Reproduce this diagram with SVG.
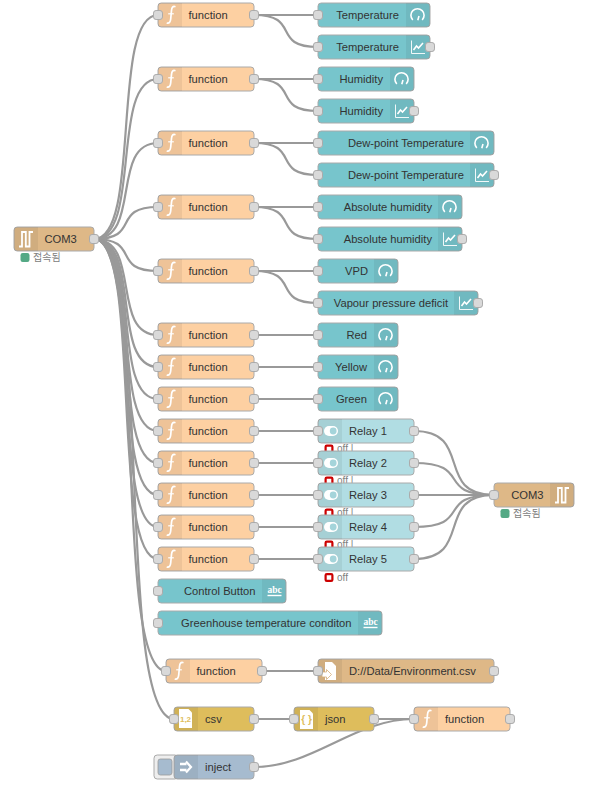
<svg xmlns="http://www.w3.org/2000/svg" xmlns:xlink="http://www.w3.org/1999/xlink" width="590" height="787" viewBox="0 0 590 787">
<style>
text{font-family:"Liberation Sans",Arial,"Noto Sans CJK KR",sans-serif;font-size:11.2px;fill:#333}
.e{text-anchor:end}
.n{stroke:#aaa;stroke-width:1}
.fn{fill:#fdd0a2}.db{fill:#77c5cc}.rl{fill:#b1dde3}.se{fill:#deb887}.pa{fill:#debd5c}.in{fill:#a6bbcf}
.sh{fill:#000;fill-opacity:.06}
.p{fill:#d9d9d9;stroke:#aaa;stroke-width:1}
.w{fill:none;stroke:#999;stroke-width:2.2}
.ic{fill:none;stroke:#fff;stroke-width:1.6}
.st{font-size:10px;fill:#808080}
</style>
<defs>
<rect id="pt" class="p" x="-4.500" y="-4.500" width="9" height="9" rx="2.600"/>
<g id="f"><path d="M5.500-8.300C2.800-9.300 1.800-7.600 1.500-4.500L.7 4C.4 7-.8 8.800-3.300 8" fill="none" stroke="#fff" stroke-width="1.700"/><path d="M-1.800-1.200H3.800" stroke="#fff" stroke-width="1.200"/></g>
<g id="gauge"><path class="ic" d="M-5.200 5A6.600 6.600 0 1 1 4.200 5"/><path class="ic" d="M-.2 5.200L1 1"/></g>
<g id="chart"><path d="M-6.500-6.500V6.500H7" fill="none" stroke="#fff" stroke-width="1" opacity=".9"/><path d="M-4.500 3L-1.500-1 .5 1 5-4" fill="none" stroke="#fff" stroke-width="1.600"/></g>
<g id="abc"><text x="0" y="1.500" text-anchor="middle" style="font-size:9.500px;fill:#fff;font-weight:bold;font-family:'Liberation Serif',serif">abc</text><path d="M-7 4.500H7" stroke="#fff" stroke-width="1.400"/></g>
<g id="ser"><path d="M-7 7.500H-4V-7H-.2V7.500H3.500V-7H7" fill="none" stroke="#fff" stroke-width="1.800"/></g>
<g id="sw"><rect x="-7" y="-5" width="14" height="10" rx="5" fill="#fff"/><circle cx="2.200" cy="0" r="3.400" fill="#a4d4da"/></g>
<g id="off"><rect x="-3.400" y="-3.400" width="6.800" height="6.800" rx="1.200" fill="#fff" stroke="#c00" stroke-width="2.200"/></g>
<path id="doc" d="M-6.500-9.500H3L6.500-6V9.500H-6.500Z" fill="#fff"/>
</defs>

<g id="connectors" class="wires">
<path class="w" d="M94 239C142 239 110 15 158 15"/>
<path class="w" d="M94 239C142 239 110 79 158 79"/>
<path class="w" d="M94 239C142 239 110 143 158 143"/>
<path class="w" d="M94 239C142 239 110 207 158 207"/>
<path class="w" d="M94 239C142 239 110 271 158 271"/>
<path class="w" d="M94 239C142 239 110 335 158 335"/>
<path class="w" d="M94 239C142 239 110 367 158 367"/>
<path class="w" d="M94 239C142 239 110 399 158 399"/>
<path class="w" d="M94 239C142 239 110 431 158 431"/>
<path class="w" d="M94 239C142 239 110 463 158 463"/>
<path class="w" d="M94 239C142 239 110 495 158 495"/>
<path class="w" d="M94 239C142 239 110 527 158 527"/>
<path class="w" d="M94 239C142 239 110 559 158 559"/>
<path class="w" d="M94 239C148 239 112 671 166 671"/>
<path class="w" d="M94 239C154 239 114 719 174 719"/>
<path class="w" d="M254 15H318"/><path class="w" d="M254 15C302 15 270 47 318 47"/>
<path class="w" d="M254 79H318"/><path class="w" d="M254 79C302 79 270 111 318 111"/>
<path class="w" d="M254 143H318"/><path class="w" d="M254 143C302 143 270 175 318 175"/>
<path class="w" d="M254 207H318"/><path class="w" d="M254 207C302 207 270 239 318 239"/>
<path class="w" d="M254 271H318"/><path class="w" d="M254 271C302 271 270 303 318 303"/>
<path class="w" d="M254 335H318"/><path class="w" d="M254 367H318"/><path class="w" d="M254 399H318"/>
<path class="w" d="M254 431H318"/><path class="w" d="M254 463H318"/><path class="w" d="M254 495H318"/><path class="w" d="M254 527H318"/><path class="w" d="M254 559H318"/>
<path class="w" d="M414 431C474 431 434 495 494 495"/>
<path class="w" d="M414 463C474 463 434 495 494 495"/>
<path class="w" d="M414 495H494"/>
<path class="w" d="M414 527C474 527 434 495 494 495"/>
<path class="w" d="M414 559C474 559 434 495 494 495"/>
<path class="w" d="M262 671H318"/>
<path class="w" d="M254 719H294"/>
<path class="w" d="M374 719H414"/>
<path class="w" d="M254 767C314 767 354 719 414 719"/>
</g>

<g id="com3-in"><rect class="n se" x="14" y="227" width="80" height="24" rx="3.200"/><path class="sh" d="M17 227H38V251H17A3 3 0 0 1 14 248V230A3 3 0 0 1 17 227Z"/><use href="#ser" x="26" y="239"/><text x="44.500" y="243">COM3</text><use href="#pt" x="94" y="239"/><rect x="20.500" y="253" width="9" height="9" rx="2.200" fill="#54a985"/><text class="st" x="33" y="261">접속됨</text></g>

<g id="fn1"><rect class="n fn" x="158" y="3" width="96" height="24" rx="3.200"/><path class="sh" d="M161 3H182V27H161A3 3 0 0 1 158 24V6A3 3 0 0 1 161 3Z"/><use href="#f" x="170" y="15"/><text x="188.500" y="19">function</text><use href="#pt" x="158" y="15"/><use href="#pt" x="254" y="15"/></g>
<g id="fn2"><rect class="n fn" x="158" y="67" width="96" height="24" rx="3.200"/><path class="sh" d="M161 67H182V91H161A3 3 0 0 1 158 88V70A3 3 0 0 1 161 67Z"/><use href="#f" x="170" y="79"/><text x="188.500" y="83">function</text><use href="#pt" x="158" y="79"/><use href="#pt" x="254" y="79"/></g>
<g id="fn3"><rect class="n fn" x="158" y="131" width="96" height="24" rx="3.200"/><path class="sh" d="M161 131H182V155H161A3 3 0 0 1 158 152V134A3 3 0 0 1 161 131Z"/><use href="#f" x="170" y="143"/><text x="188.500" y="147">function</text><use href="#pt" x="158" y="143"/><use href="#pt" x="254" y="143"/></g>
<g id="fn4"><rect class="n fn" x="158" y="195" width="96" height="24" rx="3.200"/><path class="sh" d="M161 195H182V219H161A3 3 0 0 1 158 216V198A3 3 0 0 1 161 195Z"/><use href="#f" x="170" y="207"/><text x="188.500" y="211">function</text><use href="#pt" x="158" y="207"/><use href="#pt" x="254" y="207"/></g>
<g id="fn5"><rect class="n fn" x="158" y="259" width="96" height="24" rx="3.200"/><path class="sh" d="M161 259H182V283H161A3 3 0 0 1 158 280V262A3 3 0 0 1 161 259Z"/><use href="#f" x="170" y="271"/><text x="188.500" y="275">function</text><use href="#pt" x="158" y="271"/><use href="#pt" x="254" y="271"/></g>
<g id="fn6"><rect class="n fn" x="158" y="323" width="96" height="24" rx="3.200"/><path class="sh" d="M161 323H182V347H161A3 3 0 0 1 158 344V326A3 3 0 0 1 161 323Z"/><use href="#f" x="170" y="335"/><text x="188.500" y="339">function</text><use href="#pt" x="158" y="335"/><use href="#pt" x="254" y="335"/></g>
<g id="fn7"><rect class="n fn" x="158" y="355" width="96" height="24" rx="3.200"/><path class="sh" d="M161 355H182V379H161A3 3 0 0 1 158 376V358A3 3 0 0 1 161 355Z"/><use href="#f" x="170" y="367"/><text x="188.500" y="371">function</text><use href="#pt" x="158" y="367"/><use href="#pt" x="254" y="367"/></g>
<g id="fn8"><rect class="n fn" x="158" y="387" width="96" height="24" rx="3.200"/><path class="sh" d="M161 387H182V411H161A3 3 0 0 1 158 408V390A3 3 0 0 1 161 387Z"/><use href="#f" x="170" y="399"/><text x="188.500" y="403">function</text><use href="#pt" x="158" y="399"/><use href="#pt" x="254" y="399"/></g>
<g id="fn9"><rect class="n fn" x="158" y="419" width="96" height="24" rx="3.200"/><path class="sh" d="M161 419H182V443H161A3 3 0 0 1 158 440V422A3 3 0 0 1 161 419Z"/><use href="#f" x="170" y="431"/><text x="188.500" y="435">function</text><use href="#pt" x="158" y="431"/><use href="#pt" x="254" y="431"/></g>
<g id="fn10"><rect class="n fn" x="158" y="451" width="96" height="24" rx="3.200"/><path class="sh" d="M161 451H182V475H161A3 3 0 0 1 158 472V454A3 3 0 0 1 161 451Z"/><use href="#f" x="170" y="463"/><text x="188.500" y="467">function</text><use href="#pt" x="158" y="463"/><use href="#pt" x="254" y="463"/></g>
<g id="fn11"><rect class="n fn" x="158" y="483" width="96" height="24" rx="3.200"/><path class="sh" d="M161 483H182V507H161A3 3 0 0 1 158 504V486A3 3 0 0 1 161 483Z"/><use href="#f" x="170" y="495"/><text x="188.500" y="499">function</text><use href="#pt" x="158" y="495"/><use href="#pt" x="254" y="495"/></g>
<g id="fn12"><rect class="n fn" x="158" y="515" width="96" height="24" rx="3.200"/><path class="sh" d="M161 515H182V539H161A3 3 0 0 1 158 536V518A3 3 0 0 1 161 515Z"/><use href="#f" x="170" y="527"/><text x="188.500" y="531">function</text><use href="#pt" x="158" y="527"/><use href="#pt" x="254" y="527"/></g>
<g id="fn13"><rect class="n fn" x="158" y="547" width="96" height="24" rx="3.200"/><path class="sh" d="M161 547H182V571H161A3 3 0 0 1 158 568V550A3 3 0 0 1 161 547Z"/><use href="#f" x="170" y="559"/><text x="188.500" y="563">function</text><use href="#pt" x="158" y="559"/><use href="#pt" x="254" y="559"/></g>

<g id="ui1"><rect class="n db" x="318" y="3" width="112" height="24" rx="3.200"/><path class="sh" d="M406 3H427A3 3 0 0 1 430 6V24A3 3 0 0 1 427 27H406Z"/><use href="#gauge" x="418" y="15"/><text class="e" x="399" y="19">Temperature</text><use href="#pt" x="318" y="15"/></g>
<g id="ui2"><rect class="n db" x="318" y="35" width="112" height="24" rx="3.200"/><path class="sh" d="M406 35H427A3 3 0 0 1 430 38V56A3 3 0 0 1 427 59H406Z"/><use href="#chart" x="418" y="47"/><text class="e" x="399" y="51">Temperature</text><use href="#pt" x="318" y="47"/><use href="#pt" x="430" y="47"/></g>
<g id="ui3"><rect class="n db" x="318" y="67" width="96" height="24" rx="3.200"/><path class="sh" d="M390 67H411A3 3 0 0 1 414 70V88A3 3 0 0 1 411 91H390Z"/><use href="#gauge" x="402" y="79"/><text class="e" x="383" y="83">Humidity</text><use href="#pt" x="318" y="79"/></g>
<g id="ui4"><rect class="n db" x="318" y="99" width="96" height="24" rx="3.200"/><path class="sh" d="M390 99H411A3 3 0 0 1 414 102V120A3 3 0 0 1 411 123H390Z"/><use href="#chart" x="402" y="111"/><text class="e" x="383" y="115">Humidity</text><use href="#pt" x="318" y="111"/><use href="#pt" x="414" y="111"/></g>
<g id="ui5"><rect class="n db" x="318" y="131" width="176" height="24" rx="3.200"/><path class="sh" d="M470 131H491A3 3 0 0 1 494 134V152A3 3 0 0 1 491 155H470Z"/><use href="#gauge" x="482" y="143"/><text class="e" x="464" y="147">Dew-point Temperature</text><use href="#pt" x="318" y="143"/></g>
<g id="ui6"><rect class="n db" x="318" y="163" width="176" height="24" rx="3.200"/><path class="sh" d="M470 163H491A3 3 0 0 1 494 166V184A3 3 0 0 1 491 187H470Z"/><use href="#chart" x="482" y="175"/><text class="e" x="464" y="179">Dew-point Temperature</text><use href="#pt" x="318" y="175"/><use href="#pt" x="494" y="175"/></g>
<g id="ui7"><rect class="n db" x="318" y="195" width="144" height="24" rx="3.200"/><path class="sh" d="M438 195H459A3 3 0 0 1 462 198V216A3 3 0 0 1 459 219H438Z"/><use href="#gauge" x="450" y="207"/><text class="e" x="432" y="211">Absolute humidity</text><use href="#pt" x="318" y="207"/></g>
<g id="ui8"><rect class="n db" x="318" y="227" width="144" height="24" rx="3.200"/><path class="sh" d="M438 227H459A3 3 0 0 1 462 230V248A3 3 0 0 1 459 251H438Z"/><use href="#chart" x="450" y="239"/><text class="e" x="432" y="243">Absolute humidity</text><use href="#pt" x="318" y="239"/><use href="#pt" x="462" y="239"/></g>
<g id="ui9"><rect class="n db" x="318" y="259" width="80" height="24" rx="3.200"/><path class="sh" d="M374 259H395A3 3 0 0 1 398 262V280A3 3 0 0 1 395 283H374Z"/><use href="#gauge" x="386" y="271"/><text class="e" x="368" y="275">VPD</text><use href="#pt" x="318" y="271"/></g>
<g id="ui10"><rect class="n db" x="318" y="291" width="160" height="24" rx="3.200"/><path class="sh" d="M454 291H475A3 3 0 0 1 478 294V312A3 3 0 0 1 475 315H454Z"/><use href="#chart" x="466" y="303"/><text class="e" x="448" y="307">Vapour pressure deficit</text><use href="#pt" x="318" y="303"/><use href="#pt" x="478" y="303"/></g>
<g id="ui11"><rect class="n db" x="318" y="323" width="80" height="24" rx="3.200"/><path class="sh" d="M374 323H395A3 3 0 0 1 398 326V344A3 3 0 0 1 395 347H374Z"/><use href="#gauge" x="386" y="335"/><text class="e" x="367" y="339">Red</text><use href="#pt" x="318" y="335"/></g>
<g id="ui12"><rect class="n db" x="318" y="355" width="80" height="24" rx="3.200"/><path class="sh" d="M374 355H395A3 3 0 0 1 398 358V376A3 3 0 0 1 395 379H374Z"/><use href="#gauge" x="386" y="367"/><text class="e" x="367" y="371">Yellow</text><use href="#pt" x="318" y="367"/></g>
<g id="ui13"><rect class="n db" x="318" y="387" width="80" height="24" rx="3.200"/><path class="sh" d="M374 387H395A3 3 0 0 1 398 390V408A3 3 0 0 1 395 411H374Z"/><use href="#gauge" x="386" y="399"/><text class="e" x="367" y="403">Green</text><use href="#pt" x="318" y="399"/></g>

<g id="relay1"><rect class="n rl" x="318" y="419" width="96" height="24" rx="3.200"/><path class="sh" d="M321 419H342V443H321A3 3 0 0 1 318 440V422A3 3 0 0 1 321 419Z"/><use href="#sw" x="331" y="431"/><text x="349" y="435">Relay 1</text><use href="#pt" x="318" y="431"/><use href="#pt" x="414" y="431"/><use href="#off" x="329" y="449"/><text class="st" x="337" y="452">off |</text></g>
<g id="relay2"><rect class="n rl" x="318" y="451" width="96" height="24" rx="3.200"/><path class="sh" d="M321 451H342V475H321A3 3 0 0 1 318 472V454A3 3 0 0 1 321 451Z"/><use href="#sw" x="331" y="463"/><text x="349" y="467">Relay 2</text><use href="#pt" x="318" y="463"/><use href="#pt" x="414" y="463"/><use href="#off" x="329" y="481"/><text class="st" x="337" y="484">off |</text></g>
<g id="relay3"><rect class="n rl" x="318" y="483" width="96" height="24" rx="3.200"/><path class="sh" d="M321 483H342V507H321A3 3 0 0 1 318 504V486A3 3 0 0 1 321 483Z"/><use href="#sw" x="331" y="495"/><text x="349" y="499">Relay 3</text><use href="#pt" x="318" y="495"/><use href="#pt" x="414" y="495"/><use href="#off" x="329" y="513"/><text class="st" x="337" y="516">off |</text></g>
<g id="relay4"><rect class="n rl" x="318" y="515" width="96" height="24" rx="3.200"/><path class="sh" d="M321 515H342V539H321A3 3 0 0 1 318 536V518A3 3 0 0 1 321 515Z"/><use href="#sw" x="331" y="527"/><text x="349" y="531">Relay 4</text><use href="#pt" x="318" y="527"/><use href="#pt" x="414" y="527"/><use href="#off" x="329" y="545"/><text class="st" x="337" y="548">off |</text></g>
<g id="relay5"><rect class="n rl" x="318" y="547" width="96" height="24" rx="3.200"/><path class="sh" d="M321 547H342V571H321A3 3 0 0 1 318 568V550A3 3 0 0 1 321 547Z"/><use href="#sw" x="331" y="559"/><text x="349" y="563">Relay 5</text><use href="#pt" x="318" y="559"/><use href="#pt" x="414" y="559"/><use href="#off" x="329" y="577.500"/><text class="st" x="337" y="581">off</text></g>

<g id="com3-out"><rect class="n se" x="494" y="483" width="80" height="24" rx="3.200"/><path class="sh" d="M550 483H571A3 3 0 0 1 574 486V504A3 3 0 0 1 571 507H550Z"/><use href="#ser" x="562" y="495"/><text class="e" x="543.500" y="499">COM3</text><use href="#pt" x="494" y="495"/><rect x="500.500" y="509" width="9" height="9" rx="2.200" fill="#54a985"/><text class="st" x="513" y="517">접속됨</text></g>

<g id="text1"><rect class="n db" x="158" y="579" width="128" height="24" rx="3.200"/><path class="sh" d="M262 579H283A3 3 0 0 1 286 582V600A3 3 0 0 1 283 603H262Z"/><use href="#abc" x="274.500" y="591"/><text class="e" x="255.500" y="595">Control Button</text><use href="#pt" x="158" y="591"/></g>
<g id="text2"><rect class="n db" x="158" y="611" width="224" height="24" rx="3.200"/><path class="sh" d="M358 611H379A3 3 0 0 1 382 614V632A3 3 0 0 1 379 635H358Z"/><use href="#abc" x="370.500" y="623"/><text class="e" x="351.500" y="627">Greenhouse temperature conditon</text><use href="#pt" x="158" y="623"/></g>

<g id="fn14"><rect class="n fn" x="166" y="659" width="96" height="24" rx="3.200"/><path class="sh" d="M169 659H190V683H169A3 3 0 0 1 166 680V662A3 3 0 0 1 169 659Z"/><use href="#f" x="178" y="671"/><text x="196.500" y="675">function</text><use href="#pt" x="166" y="671"/><use href="#pt" x="262" y="671"/></g>
<g id="file"><rect class="n se" x="318" y="659" width="176" height="24" rx="3.200"/><path class="sh" d="M321 659H342V683H321A3 3 0 0 1 318 680V662A3 3 0 0 1 321 659Z"/><path d="M325 662H332L336 666V680H325Z" fill="#fff"/><path d="M322 672H326.500V669.500L331.500 674.500 326.500 679.500V677H322Z" fill="#fff" stroke="#d6ae7b" stroke-width=".8"/><text x="349" y="675">D://Data/Environment.csv</text><use href="#pt" x="318" y="671"/><use href="#pt" x="494" y="671"/></g>

<g id="csv"><rect class="n pa" x="174" y="707" width="80" height="24" rx="3.200"/><path class="sh" d="M177 707H198V731H177A3 3 0 0 1 174 728V710A3 3 0 0 1 177 707Z"/><use href="#doc" x="185.500" y="718.500"/><text x="185.500" y="722" text-anchor="middle" style="font-size:8px;font-weight:bold;fill:#debd5c">1,2</text><text x="205" y="723">csv</text><use href="#pt" x="174" y="719"/><use href="#pt" x="254" y="719"/></g>
<g id="json"><rect class="n pa" x="294" y="707" width="80" height="24" rx="3.200"/><path class="sh" d="M297 707H318V731H297A3 3 0 0 1 294 728V710A3 3 0 0 1 297 707Z"/><use href="#doc" x="306.500" y="719.500"/><text x="306.500" y="723" text-anchor="middle" style="font-size:10px;font-weight:bold;fill:#debd5c">{ }</text><text x="325" y="723">json</text><use href="#pt" x="294" y="719"/><use href="#pt" x="374" y="719"/></g>
<g id="fn15"><rect class="n fn" x="414" y="707" width="96" height="24" rx="3.200"/><path class="sh" d="M417 707H438V731H417A3 3 0 0 1 414 728V710A3 3 0 0 1 417 707Z"/><use href="#f" x="426" y="719"/><text x="445" y="723">function</text><use href="#pt" x="414" y="719"/><use href="#pt" x="510" y="719"/></g>

<g id="inject"><rect x="154" y="755" width="24" height="24" rx="3.200" fill="#eee" stroke="#aaa" stroke-width="1"/><rect x="158" y="759" width="14" height="16" rx="2.400" class="in" stroke="#999" stroke-width=".8"/><rect class="n in" x="174" y="755" width="80" height="24" rx="3.200"/><path class="sh" d="M177 755H198V779H177A3 3 0 0 1 174 776V758A3 3 0 0 1 177 755Z"/><path d="M180 764H186.500M180 770H186.500" stroke="#fff" stroke-width="2.500" fill="none"/><path d="M186 761.500L191 767 186 772.500" stroke="#fff" stroke-width="2.200" fill="none"/><text x="205" y="771">inject</text><use href="#pt" x="254" y="767"/></g>
</svg>
